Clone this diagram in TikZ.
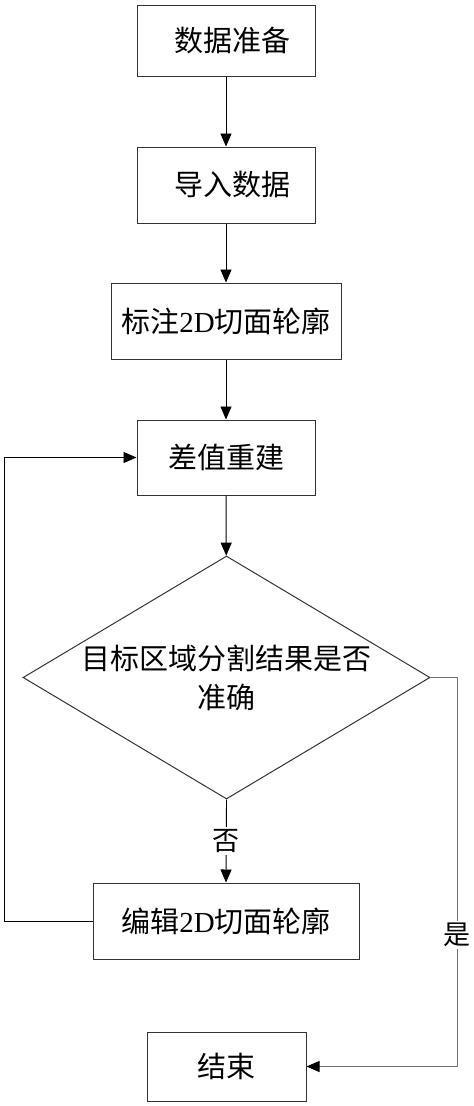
\documentclass[tikz,border=0pt]{standalone}
\usepackage{fontspec}
\newfontfamily\cjk{Noto Sans CJK SC}
\newfontfamily\lat{Liberation Serif}
\usetikzlibrary{shapes.geometric,arrows.meta}
\begin{document}
\begin{tikzpicture}[x=1pt,y=-1pt,
  box/.style={draw=black!80, line width=1pt, inner sep=0pt, font=\cjk\fontsize{29}{39}\selectfont},
  arr/.style={-{Triangle[length=13pt,width=11pt,fill=black,color=black]}, line width=0.9pt},
  lbl/.style={fill=white, inner sep=2pt, font=\cjk\fontsize{27}{30}\selectfont}]
\useasboundingbox (0,0) rectangle (474,1106);
\node[box, minimum width=178pt, minimum height=71pt] (b1) at (226,40.5) {\hspace{12pt}数据准备};
\node[box, minimum width=178pt, minimum height=76pt] (b2) at (226,185) {\hspace{12pt}导入数据};
\node[box, minimum width=230pt, minimum height=76pt] (b3) at (226,321) {标注{\lat 2D}切面轮廓};
\node[box, minimum width=178pt, minimum height=75pt] (b4) at (226,457.5) {差值重建};
\node[box, diamond, aspect=1.675, minimum width=407pt, minimum height=243pt, align=center] (d) at (226.5,677.5) {目标区域分割结果是否\\准确};
\node[box, minimum width=266pt, minimum height=76pt] (b5) at (226,921) {编辑{\lat 2D}切面轮廓};
\node[box, minimum width=159pt, minimum height=69pt] (b6) at (226.5,1066.5) {结束};
\coordinate (L) at (4,921);
\coordinate (R) at (457,677.5);
\draw[arr] (b1) -- (b2);
\draw[arr] (b2) -- (b3);
\draw[arr] (b3) -- (b4);
\draw[arr] (b4) -- (d);
\draw[arr] (d.south) -- node[lbl, pos=0.5] (no) {否} (b5.north);
\draw[arr, line width=0.7pt] (b5.west) -- (L) |- (b4.west);
\draw[arr, draw=black!55, line width=1pt] (d.east) -- (R) |- (b6.east);
\node[lbl] (yes) at (457,935) {是};
\end{tikzpicture}
\end{document}
